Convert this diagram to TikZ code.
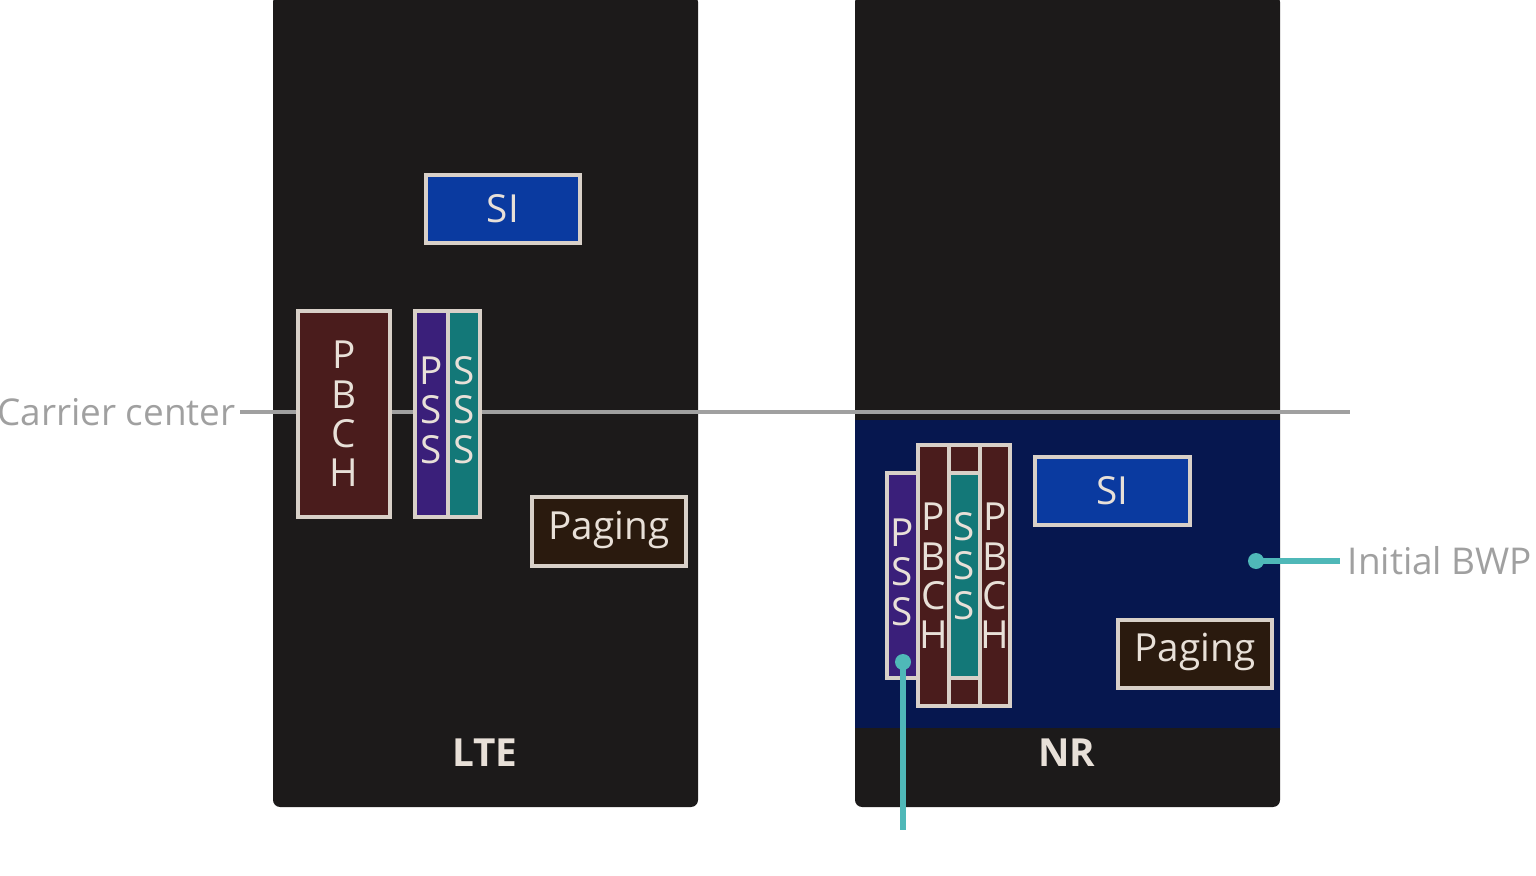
\documentclass[tikz,border=0pt]{standalone}
\usepackage{fontspec}
\setmainfont{Open Sans}
\begin{document}
\begin{tikzpicture}[x=0.01cm,y=-0.01cm,
  bx/.style={draw=bord,line width=1.2pt},
  lbl/.style={text=txt,font=\fontsize{11}{12}\selectfont,align=center},
  vt/.style={text=txt,font=\fontsize{11}{11.2}\selectfont,align=center}]
\definecolor{bgk}{HTML}{1C1A1A}\definecolor{brn}{HTML}{4A1C1C}
\definecolor{pur}{HTML}{3A1F7A}\definecolor{tel}{HTML}{137878}
\definecolor{sib}{HTML}{0A3AA0}\definecolor{nrb}{HTML}{06174F}
\definecolor{pag}{HTML}{2A1A0E}\definecolor{bord}{HTML}{D8D0C8}
\definecolor{cy}{HTML}{4FB8B8}\definecolor{txt}{HTML}{E8E0D8}
\definecolor{gr}{HTML}{A0A0A0}
\useasboundingbox (0,0) rectangle (1536,876);
% panels
\fill[bgk,rounded corners=2pt] (273,-5) rectangle (698,807);
\fill[bgk,rounded corners=2pt] (855,-5) rectangle (1280,807);
\fill[nrb] (855,420) rectangle (1280,728);
% carrier line
\coordinate (cl) at (240,412); \coordinate (cr) at (1350,412);
\draw[gr,line width=1pt] (cl) -- (cr);
\node[anchor=east,text=gr,font=\fontsize{10.5}{12}\selectfont,inner sep=1pt] (cc) at (cl) {Carrier center};
% LTE
\draw[bx,fill=sib] (426,175) rectangle (580,243);
\node[lbl] (lsi) at (503,209) {SI};
\draw[bx,fill=brn] (298,311) rectangle (390,517);
\node[vt] (lpb) at (344,414) {P\\B\\C\\H};
\draw[bx,fill=pur] (415,311) rectangle (448,517);
\draw[bx,fill=tel] (448,311) rectangle (480,517);
\node[vt] (lpss) at (431.5,410) {P\\S\\S};
\node[vt] (lsss) at (464,410) {S\\S\\S};
\draw[bx,fill=pag] (532,497) rectangle (686,566);
\node[lbl] (lpg) at (609,530) {Paging};
\node[text=txt,font=\bfseries\fontsize{11}{12}\selectfont] (lte) at (485,753) {LTE};
% NR
\draw[bx,fill=pur] (887,473) rectangle (918,678);
\node[vt] (npss) at (902.5,572) {P\\S\\S};
\draw[bx,fill=brn] (918,445) rectangle (1010,706);
\draw[bx] (949,445) -- (949,706) (980,445) -- (980,706);
\draw[bx,fill=tel] (949,473) rectangle (980,678);
\node[vt] (npb1) at (933.5,576) {P\\B\\C\\H};
\node[vt] (nsss) at (964.5,566) {S\\S\\S};
\node[vt] (npb2) at (995,576) {P\\B\\C\\H};
\draw[bx,fill=sib] (1035,457) rectangle (1190,525);
\node[lbl] (nsi) at (1112,491) {SI};
\draw[bx,fill=pag] (1118,620) rectangle (1272,688);
\node[lbl] (npg) at (1195,652) {Paging};
\node[text=txt,font=\bfseries\fontsize{11}{12}\selectfont] (nr) at (1067,753) {NR};
% callouts
\coordinate (d1) at (903,662); \coordinate (d1e) at (903,830);
\draw[cy,line width=1.5pt] (d1) -- (d1e);
\fill[cy] (d1) circle (8);
\coordinate (d2) at (1256,561); \coordinate (d2e) at (1340,561);
\draw[cy,line width=1.5pt] (d2) -- (d2e);
\fill[cy] (d2) circle (8);
\node[anchor=west,text=gr,font=\fontsize{10.5}{12}\selectfont,inner sep=2pt] (bwp) at (d2e) {Initial BWP};
\end{tikzpicture}
\end{document}
